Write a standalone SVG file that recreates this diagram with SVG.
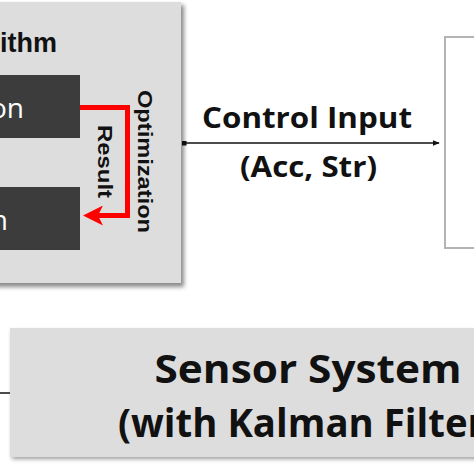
<svg xmlns="http://www.w3.org/2000/svg" width="474" height="474" viewBox="0 0 474 474">
<style>
.panel{fill:#dddddd}
.dark{fill:#3c3c3c}
.arial{font-family:"Liberation Sans",Arial,sans-serif;font-weight:bold;fill:#111}
.malgun{font-family:"Open Sans","Noto Sans",sans-serif;font-weight:bold;fill:#111}
.white{font-family:"Open Sans","Noto Sans",sans-serif;fill:#ffffff}
.conn{stroke:#111;stroke-width:1.5;fill:none}
.red{stroke:#ff0000;stroke-width:5;fill:none}
</style>
<defs>
<filter id="sh" x="-10%" y="-10%" width="130%" height="130%">
<feGaussianBlur stdDeviation="2"/>
</filter>
<marker id="ah" viewBox="0 0 10 10" refX="9" refY="5" markerWidth="7" markerHeight="7" markerUnits="userSpaceOnUse" orient="auto">
<path d="M0,1 L10,5 L0,9 Z" fill="#111"/>
</marker>
<marker id="sq" viewBox="0 0 10 10" refX="5" refY="5" markerWidth="5" markerHeight="5" markerUnits="userSpaceOnUse" orient="auto">
<rect x="0" y="0" width="10" height="10" fill="#111"/>
</marker>
<marker id="rah" viewBox="0 0 10 10" refX="3.5" refY="5" markerWidth="20" markerHeight="20" markerUnits="userSpaceOnUse" orient="auto">
<path d="M10,5 L0,0 L2.5,5 L0,10 Z" fill="#ff0000"/>
</marker>
</defs>
<rect width="474" height="474" fill="#ffffff"/>

<g id="algorithm">
<rect x="-10" y="5" width="194" height="282" fill="#8a8a8a" filter="url(#sh)"/>
<rect class="panel" x="-10" y="2" width="191" height="281"/>
<text class="arial" x="57" y="52" font-size="27" text-anchor="end">ithm</text>
</g>

<g id="box-top">
<rect class="dark" x="-10" y="75" width="90" height="63"/>
<text class="white" x="24" y="118" font-size="28" text-anchor="end">on</text>
</g>

<g id="box-bottom">
<rect class="dark" x="-10" y="187" width="90" height="63"/>
<text class="white" x="8" y="230" font-size="28" text-anchor="end">n</text>
</g>

<g id="vehicle">
<rect x="445" y="37" width="40" height="211" fill="#ffffff" stroke="#b4b4b4" stroke-width="2"/>
</g>

<g id="sensor">
<rect x="12" y="331" width="470" height="128" fill="#9a9a9a" filter="url(#sh)"/>
<rect class="panel" x="10" y="328" width="470" height="129"/>
<text class="malgun" x="308" y="383" font-size="39" text-anchor="middle" textLength="307" lengthAdjust="spacingAndGlyphs">Sensor System</text>
<text class="malgun" x="118" y="437" font-size="39" textLength="380" lengthAdjust="spacingAndGlyphs">(with Kalman Filter)</text>
</g>

<g id="connectors">
<path class="red" d="M80,107.5 H127.5 V215.5 H96" marker-end="url(#rah)"/>
<line class="conn" x1="184" y1="143" x2="439" y2="143" marker-start="url(#sq)" marker-end="url(#ah)"/>
<line class="conn" x1="0" y1="393" x2="10" y2="393"/>
<text class="arial" font-size="20" transform="translate(138,90) rotate(90)" textLength="143" lengthAdjust="spacingAndGlyphs">Optimization</text>
<text class="arial" font-size="20" transform="translate(98,125) rotate(90)" textLength="73" lengthAdjust="spacingAndGlyphs">Result</text>
<text class="malgun" x="307" y="128" font-size="29" text-anchor="middle" textLength="210" lengthAdjust="spacingAndGlyphs">Control Input</text>
<text class="malgun" x="308.5" y="177" font-size="28" text-anchor="middle" textLength="137" lengthAdjust="spacingAndGlyphs">(Acc, Str)</text>
</g>
</svg>
